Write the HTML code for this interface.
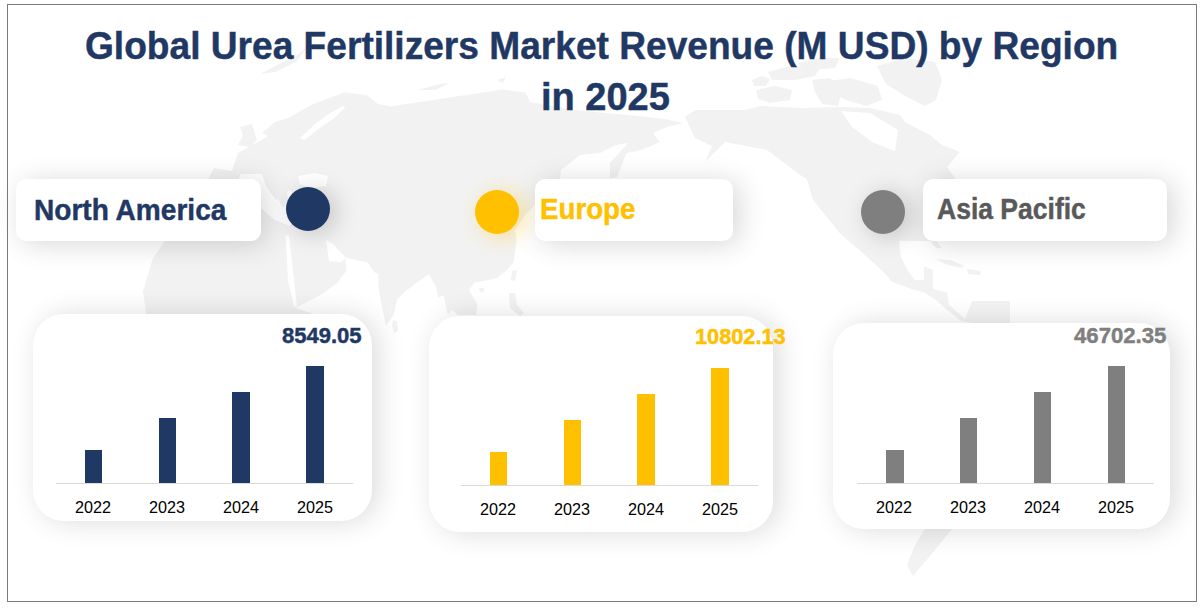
<!DOCTYPE html>
<html>
<head>
<meta charset="utf-8">
<style>
html,body{margin:0;padding:0;}
body{width:1202px;height:616px;position:relative;overflow:hidden;background:#fff;font-family:"Liberation Sans",sans-serif;}
.frame{position:absolute;left:7px;top:4px;width:1190px;height:598px;box-sizing:border-box;border:1px solid #7b7b7b;}
.t{position:absolute;white-space:nowrap;line-height:1;transform-origin:0 0;font-weight:bold;-webkit-text-stroke:0.45px currentColor;}
.lbl{position:absolute;background:#fff;border-radius:10px;box-shadow:6px 3px 28px rgba(0,0,0,0.16);}
.dot{position:absolute;width:44px;height:44px;border-radius:50%;}
.card{position:absolute;background:#fff;border-radius:31px;box-shadow:6px 1px 28px rgba(0,0,0,0.14);}
.bar{position:absolute;}
.axis{position:absolute;height:1px;background:#d9d9d9;}
.yr{position:absolute;white-space:nowrap;line-height:1;transform-origin:0 0;font-weight:normal;color:#000;font-size:16.2px;}
</style>
</head>
<body>
<svg id="map" width="1202" height="616" style="position:absolute;left:0;top:0;" viewBox="0 0 1202 616">
<g fill="#f2f2f2">
<polygon points="214,168 232,171 238,153 250,146 262,140 268,136 262,133 275,122 288,118 313,104 344.5,92.4 367,95 378,104 390,106.6 446,98 503,89.6 525.5,92.4 530,102 575,110 605,113 638,116 665,119 683,123 667,127 653,133 660,142 641,150 626.5,153 617,177 610,178 610,163 628,143 616,145 600,153 580,155 561,170 560,179 540,200 525,215 515,230 516.5,240 514,260 513,263 506,271 497,278 483,281 474.7,282.6 469,289.7 474.7,299.6 477.5,305 476,315 457.7,315 452,309.5 448,315 446,306.7 443.5,295 438,298 436.5,288 432,280 429,274 416.7,282.6 404,292.5 397,299.6 394,314 386,326 381,302 378.5,287 378.5,274 374,272 367.7,262.5 345,257.6 346.6,270.6 336.8,283.6 320.6,295 295.4,308 320,316 330,330 300,400 240,470 150,400 146,313 143,291 153,258 165,241 190,230 205,185"/>
<polygon points="240,127 252,124 257,140 250,147 238,145 243,136"/>
<polygon points="260,74 300,53 308,46 296,62 275,72"/>
<polygon points="418,90 440,84 450,83 435,90"/>
<polygon points="497,80 506,77 503,83"/>
<polygon points="685,117 695,110 745,110 760,106 800,108 842,107 870,108 900,115 905,122 930,135 942,145 960,152 947,167 955,178 950,200 942,228 936,240 941.8,248 936,248 930,241 899,240.7 900.7,256.8 908,271 915,280 924,280 924,266 933,270 933,289 947,292.5 949,305 965,319 972,301 1010,301 1010,330 961.4,321 947,310 938,301.4 924,292.5 911.4,289 891.8,281.8 884.6,272.9 866.8,256.8 840,233.6 813,200 807,179 800,175 767,150 725,142 705,162 712,146 695,138"/>
<polygon points="752,80 762,76 770,79 766,86 754,86"/>
<polygon points="756,90 775,86 792,90 790,100 770,103 758,99"/>
<polygon points="768,72 790,66 820,67 815,76 795,80 772,80"/>
<polygon points="812,80 830,78 842,90 838,106 822,104 815,92"/>
<polygon points="822,82 850,78 878,86 882,100 866,106 846,100 830,92"/>
<polygon points="797,64 815,58 840,58 835,68 810,70"/>
<polygon points="877,66 905,58 935,62 942,80 936,100 925,106 905,96 886,84"/>
<polygon points="925,529 952,529 935,550 918,570 913,576 907,565 915,545"/>
</g>
<g fill="#ffffff">
<polygon points="241,174 262,174 266,186 276,200 282,195 290,190 302,204 290,226 275,220 258,206 244,197 232,190"/>
<polygon points="298,176 315,173 328,176 326,186 310,188 300,184"/>
<polygon points="285.5,235 289,236 297,306 294,307 288,280"/>
<polygon points="326,240 333,244 346,258 341,262 329,261"/>
<polygon points="300,138 316,123 330,113 343,106 345,108 333,119 320,128 304,140"/>
<polygon points="841,111 870,113 898,130 895,151 872,142 852,127"/>
</g>
<g fill="#f2f2f2">
<polygon points="265,170 272,169 276,186 282,195 276,200 268,189 264,178"/>
<polygon points="279,190 286,187 288,199 283,208 278,199"/>
<polygon points="393,320 397,321 398,331 394,333 392,326"/>
<polygon points="479,288 484,288 484,292 480,292"/>
<polygon points="512,271 517,270 515,281 511,280"/>
<polygon points="509,293 515,293 517,305 524,313 520,316 510,308"/>
<polygon points="936,259 950,260 965,266 960,268 945,264"/>
<polygon points="967,269 981,271 980,275 968,274"/>
</g>
</svg>
<div class="frame"></div>

<div class="t" style="left:84.5px;top:27px;font-size:38.5px;color:#1f3864;transform:scaleX(0.964);">Global Urea Fertilizers Market Revenue (M USD) by Region</div>
<div class="t" style="left:540.5px;top:78px;font-size:38.5px;color:#1f3864;transform:scaleX(0.987);">in 2025</div>

<!-- labels -->
<div class="lbl" style="left:16px;top:179px;width:245px;height:62px;"></div>
<div class="t" style="left:34px;top:196px;font-size:29px;color:#1f3864;transform:scaleX(0.968);">North America</div>
<div class="dot" style="left:286px;top:187px;background:#1f3864;box-shadow:6px 3px 24px rgba(0,0,0,0.2);"></div>

<div class="dot" style="left:475px;top:190px;background:#ffc000;box-shadow:6px 3px 22px rgba(255,192,0,0.4);"></div>
<div class="lbl" style="left:535px;top:179px;width:198px;height:62px;"></div>
<div class="t" style="left:539.5px;top:194.5px;font-size:29px;color:#ffc000;transform:scaleX(0.955);">Europe</div>

<div class="dot" style="left:861px;top:190px;background:#7f7f7f;box-shadow:6px 3px 24px rgba(0,0,0,0.2);"></div>
<div class="lbl" style="left:923px;top:179px;width:244px;height:62px;"></div>
<div class="t" style="left:937px;top:195px;font-size:29px;color:#595959;transform:scaleX(0.914);">Asia Pacific</div>

<!-- cards -->
<div class="card" style="left:33px;top:314px;width:339px;height:207px;"></div>
<div class="card" style="left:429px;top:316px;width:344px;height:216px;"></div>
<div class="card" style="left:833px;top:323px;width:337px;height:206px;"></div>

<!-- NA chart -->
<div class="t" style="left:282px;top:326px;font-size:21.5px;color:#1f3864;transform:scaleX(1.024);">8549.05</div>
<div class="axis" style="left:56px;top:483px;width:297px;"></div>
<div class="bar" style="left:85px;top:450px;width:17px;height:33px;background:#1f3864;"></div>
<div class="bar" style="left:159px;top:418px;width:17px;height:65px;background:#1f3864;"></div>
<div class="bar" style="left:232px;top:392px;width:18px;height:91px;background:#1f3864;"></div>
<div class="bar" style="left:306px;top:366px;width:18px;height:117px;background:#1f3864;"></div>
<div class="yr" style="left:75px;top:499px;">2022</div>
<div class="yr" style="left:149px;top:499px;">2023</div>
<div class="yr" style="left:223px;top:499px;">2024</div>
<div class="yr" style="left:297px;top:499px;">2025</div>

<!-- EU chart -->
<div class="t" style="left:694.5px;top:326.5px;font-size:21.5px;color:#ffc000;transform:scaleX(1.01);">10802.13</div>
<div class="axis" style="left:461px;top:485px;width:297px;"></div>
<div class="bar" style="left:490px;top:452px;width:17px;height:33px;background:#ffc000;"></div>
<div class="bar" style="left:564px;top:420px;width:17px;height:65px;background:#ffc000;"></div>
<div class="bar" style="left:637px;top:394px;width:18px;height:91px;background:#ffc000;"></div>
<div class="bar" style="left:711px;top:368px;width:18px;height:117px;background:#ffc000;"></div>
<div class="yr" style="left:480px;top:501px;">2022</div>
<div class="yr" style="left:554px;top:501px;">2023</div>
<div class="yr" style="left:628px;top:501px;">2024</div>
<div class="yr" style="left:702px;top:501px;">2025</div>

<!-- AP chart -->
<div class="t" style="left:1073.5px;top:326px;font-size:21.5px;color:#7f7f7f;transform:scaleX(1.03);">46702.35</div>
<div class="axis" style="left:857px;top:483px;width:297px;"></div>
<div class="bar" style="left:886px;top:450px;width:18px;height:33px;background:#7f7f7f;"></div>
<div class="bar" style="left:960px;top:418px;width:17px;height:65px;background:#7f7f7f;"></div>
<div class="bar" style="left:1034px;top:392px;width:17px;height:91px;background:#7f7f7f;"></div>
<div class="bar" style="left:1108px;top:366px;width:17px;height:117px;background:#7f7f7f;"></div>
<div class="yr" style="left:876px;top:499px;">2022</div>
<div class="yr" style="left:950px;top:499px;">2023</div>
<div class="yr" style="left:1024px;top:499px;">2024</div>
<div class="yr" style="left:1098px;top:499px;">2025</div>

</body>
</html>
